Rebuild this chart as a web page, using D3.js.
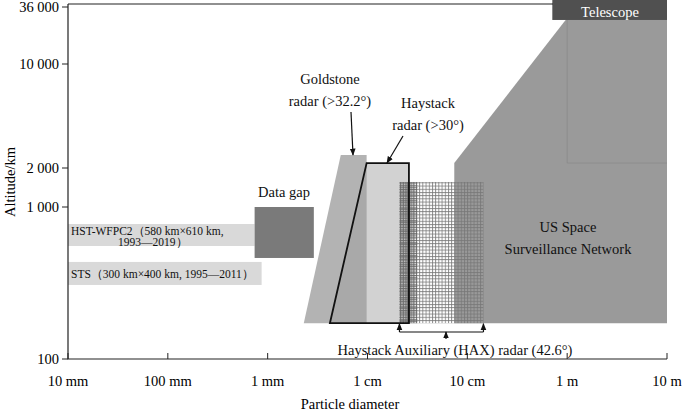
<!DOCTYPE html>
<html><head><meta charset="utf-8">
<script src="https://cdn.jsdelivr.net/npm/d3@7"></script>
<style>body{margin:0;background:#fff}text{font-family:"Liberation Serif","DejaVu Serif",serif}</style>
</head><body><svg id="chart" width="685" height="413"></svg>
<script>
// tick values and labels
var xTicks = [1e-5, 1e-4, 1e-3, 1e-2, 1e-1, 1, 10];
var xLabels = ["10 mm", "100 mm", "1 mm", "1 cm", "10 cm", "1 m", "10 m"];
var yTicks = [100, 1000, 2000, 10000, 36000];
var yLabels = ["100", "1 000", "2 000", "10 000", "36 000"];

// regions: [diameter m, altitude km] corners
var hst = [[1e-5, 554], [7.4e-4, 773]];
var sts = [[1e-5, 307], [8.7e-4, 435]];
var dataGap = [[7.4e-4, 462], [2.9e-3, 1000]];
var goldstone = [[0.0023, 172], [0.0054, 2450], [0.0098, 2450], [0.0098, 172]];
var haystack = [[0.0042, 172], [0.0098, 2160], [0.026, 2160], [0.026, 172]];
var overlap = [[0.0042, 172], [0.0098, 2160], [0.0098, 172]];
var ssn = [[0.074, 172], [0.074, 2160], [1, 28100], [10, 28100], [10, 172]];
var telescope = [[0.71, 26900], [10, 36000]];
var hax = [[0.0209, 172], [0.145, 1560]];
var haxDense = [0.0209, 0.0316];

var svg = d3.select("#chart");
var x = d3.scaleLog().domain([1e-5, 10]).range([68, 667]);
var y = d3.scaleLog().domain([100, 1000, 2000, 10000, 36000]).range([359, 207, 168, 64, 7]);

var defs = svg.append("defs");
function grid(id, step, col) {
    var p = defs.append("pattern").attr("id", id).attr("patternUnits", "userSpaceOnUse")
        .attr("width", step).attr("height", step);
    p.append("path").attr("d", "M0,0.5H" + step + "M0.5,0V" + step)
        .attr("stroke", col).attr("stroke-width", 0.8).attr("fill", "none");
}
grid("mesh", 3.2, "#777");
grid("meshDense", 2.2, "#666");
var mk = defs.append("marker").attr("id", "arr").attr("viewBox", "0 0 10 10").attr("refX", 9).attr("refY", 5)
    .attr("markerWidth", 6).attr("markerHeight", 6).attr("orient", "auto");
mk.append("path").attr("d", "M0,1L10,5L0,9z").attr("fill", "#111");

function rect(r, fill) {
    return svg.append("rect").attr("x", x(r[0][0])).attr("y", y(r[1][1]))
        .attr("width", x(r[1][0]) - x(r[0][0])).attr("height", y(r[0][1]) - y(r[1][1])).attr("fill", fill);
}
var line = d3.line().x(function(d) { return x(d[0]); }).y(function(d) { return y(d[1]); });
function poly(pts, fill) {
    return svg.append("path").attr("d", line(pts) + "Z").attr("fill", fill);
}

rect(hst, "#d9d9d9");
rect(sts, "#d9d9d9");
rect(dataGap, "#7a7a7a");
poly(ssn, "#9a9a9a");
// faint inner lines of SSN region
svg.append("path").attr("d", line([[1, 28100], [1, 2160], [10, 2160]])).attr("stroke", "#8a8a8a").attr("fill", "none").attr("stroke-width", 0.8);
svg.append("rect").attr("x", x(telescope[0][0])).attr("y", 0).attr("width", x(10) - x(telescope[0][0]))
    .attr("height", y(telescope[0][1])).attr("fill", "#505050");
poly(goldstone, "#b3b3b3");
poly(haystack, "#d2d2d2");
poly(overlap, "#a9a9a9");
rect(hax, "url(#mesh)");
rect([[haxDense[0], hax[0][1]], [haxDense[1], hax[1][1]]], "url(#meshDense)");
poly(haystack, "none").attr("stroke", "#111").attr("stroke-width", 1.8);

// axes
var g = svg.append("g");
g.append("path").attr("d", "M68,4V359H667").attr("stroke", "#222").attr("fill", "none").attr("stroke-width", 1.2);
g.append("path").attr("d", "M68,4H553").attr("stroke", "#222").attr("stroke-width", 1.2);
xTicks.forEach(function(t, i) {
    g.append("line").attr("x1", x(t)).attr("x2", x(t)).attr("y1", 359).attr("y2", 353).attr("stroke", "#222");
    g.append("text").attr("x", x(t)).attr("y", 386).attr("text-anchor", "middle").attr("font-size", 14.5).text(xLabels[i]);
});
yTicks.forEach(function(t, i) {
    g.append("line").attr("x1", 62).attr("x2", 68).attr("y1", y(t)).attr("y2", y(t)).attr("stroke", "#222");
    g.append("text").attr("x", 59).attr("y", y(t) + 5).attr("text-anchor", "end").attr("font-size", 14.5).text(yLabels[i]);
});
svg.append("text").attr("transform", "translate(15,182) rotate(-90)").attr("text-anchor", "middle").attr("font-size", 14.5).text("Altitude/km");
svg.append("text").attr("x", 350).attr("y", 409).attr("text-anchor", "middle").attr("font-size", 14.5).text("Particle diameter");

function label(tx, ty, s, size, anchor, col) {
    return svg.append("text").attr("x", tx).attr("y", ty).attr("font-size", size).attr("text-anchor", anchor || "start")
        .attr("fill", col || "#111").text(s);
}
label(71, 235, "HST-WFPC2（580 km×610 km,", 11.5);
label(118, 246, "1993—2019）", 11.5);
label(71, 278, "STS（300 km×400 km, 1995—2011）", 11.5);
label(284, 197, "Data gap", 14.5, "middle");
label(330, 84, "Goldstone", 14.5, "middle");
label(330, 106, "radar (>32.2°)", 14.5, "middle");
label(428, 108, "Haystack", 14.5, "middle");
label(428, 130, "radar (>30°)", 14.5, "middle");
label(568, 232, "US Space", 14.5, "middle");
label(568, 254, "Surveillance Network", 14.5, "middle");
label(610, 17, "Telescope", 14.5, "middle", "#fff");
label(455, 355, "Haystack Auxiliary (HAX) radar (42.6°)", 14.5, "middle");

function arrow(x1, y1, x2, y2) {
    svg.append("line").attr("x1", x1).attr("y1", y1).attr("x2", x2).attr("y2", y2)
        .attr("stroke", "#111").attr("stroke-width", 1.2).attr("marker-end", "url(#arr)");
}
arrow(351, 112, 353, 155);
arrow(403, 136, 387, 163);
// HAX bracket
var by = 332;
svg.append("line").attr("x1", x(hax[0][0])).attr("x2", x(hax[1][0])).attr("y1", by).attr("y2", by).attr("stroke", "#111").attr("stroke-width", 1.2);
arrow(x(hax[0][0]), by, x(hax[0][0]), y(172) + 0.5);
arrow(x(hax[1][0]), by, x(hax[1][0]), y(172) + 0.5);
arrow(446, 339, 446, by);
</script></body></html>
